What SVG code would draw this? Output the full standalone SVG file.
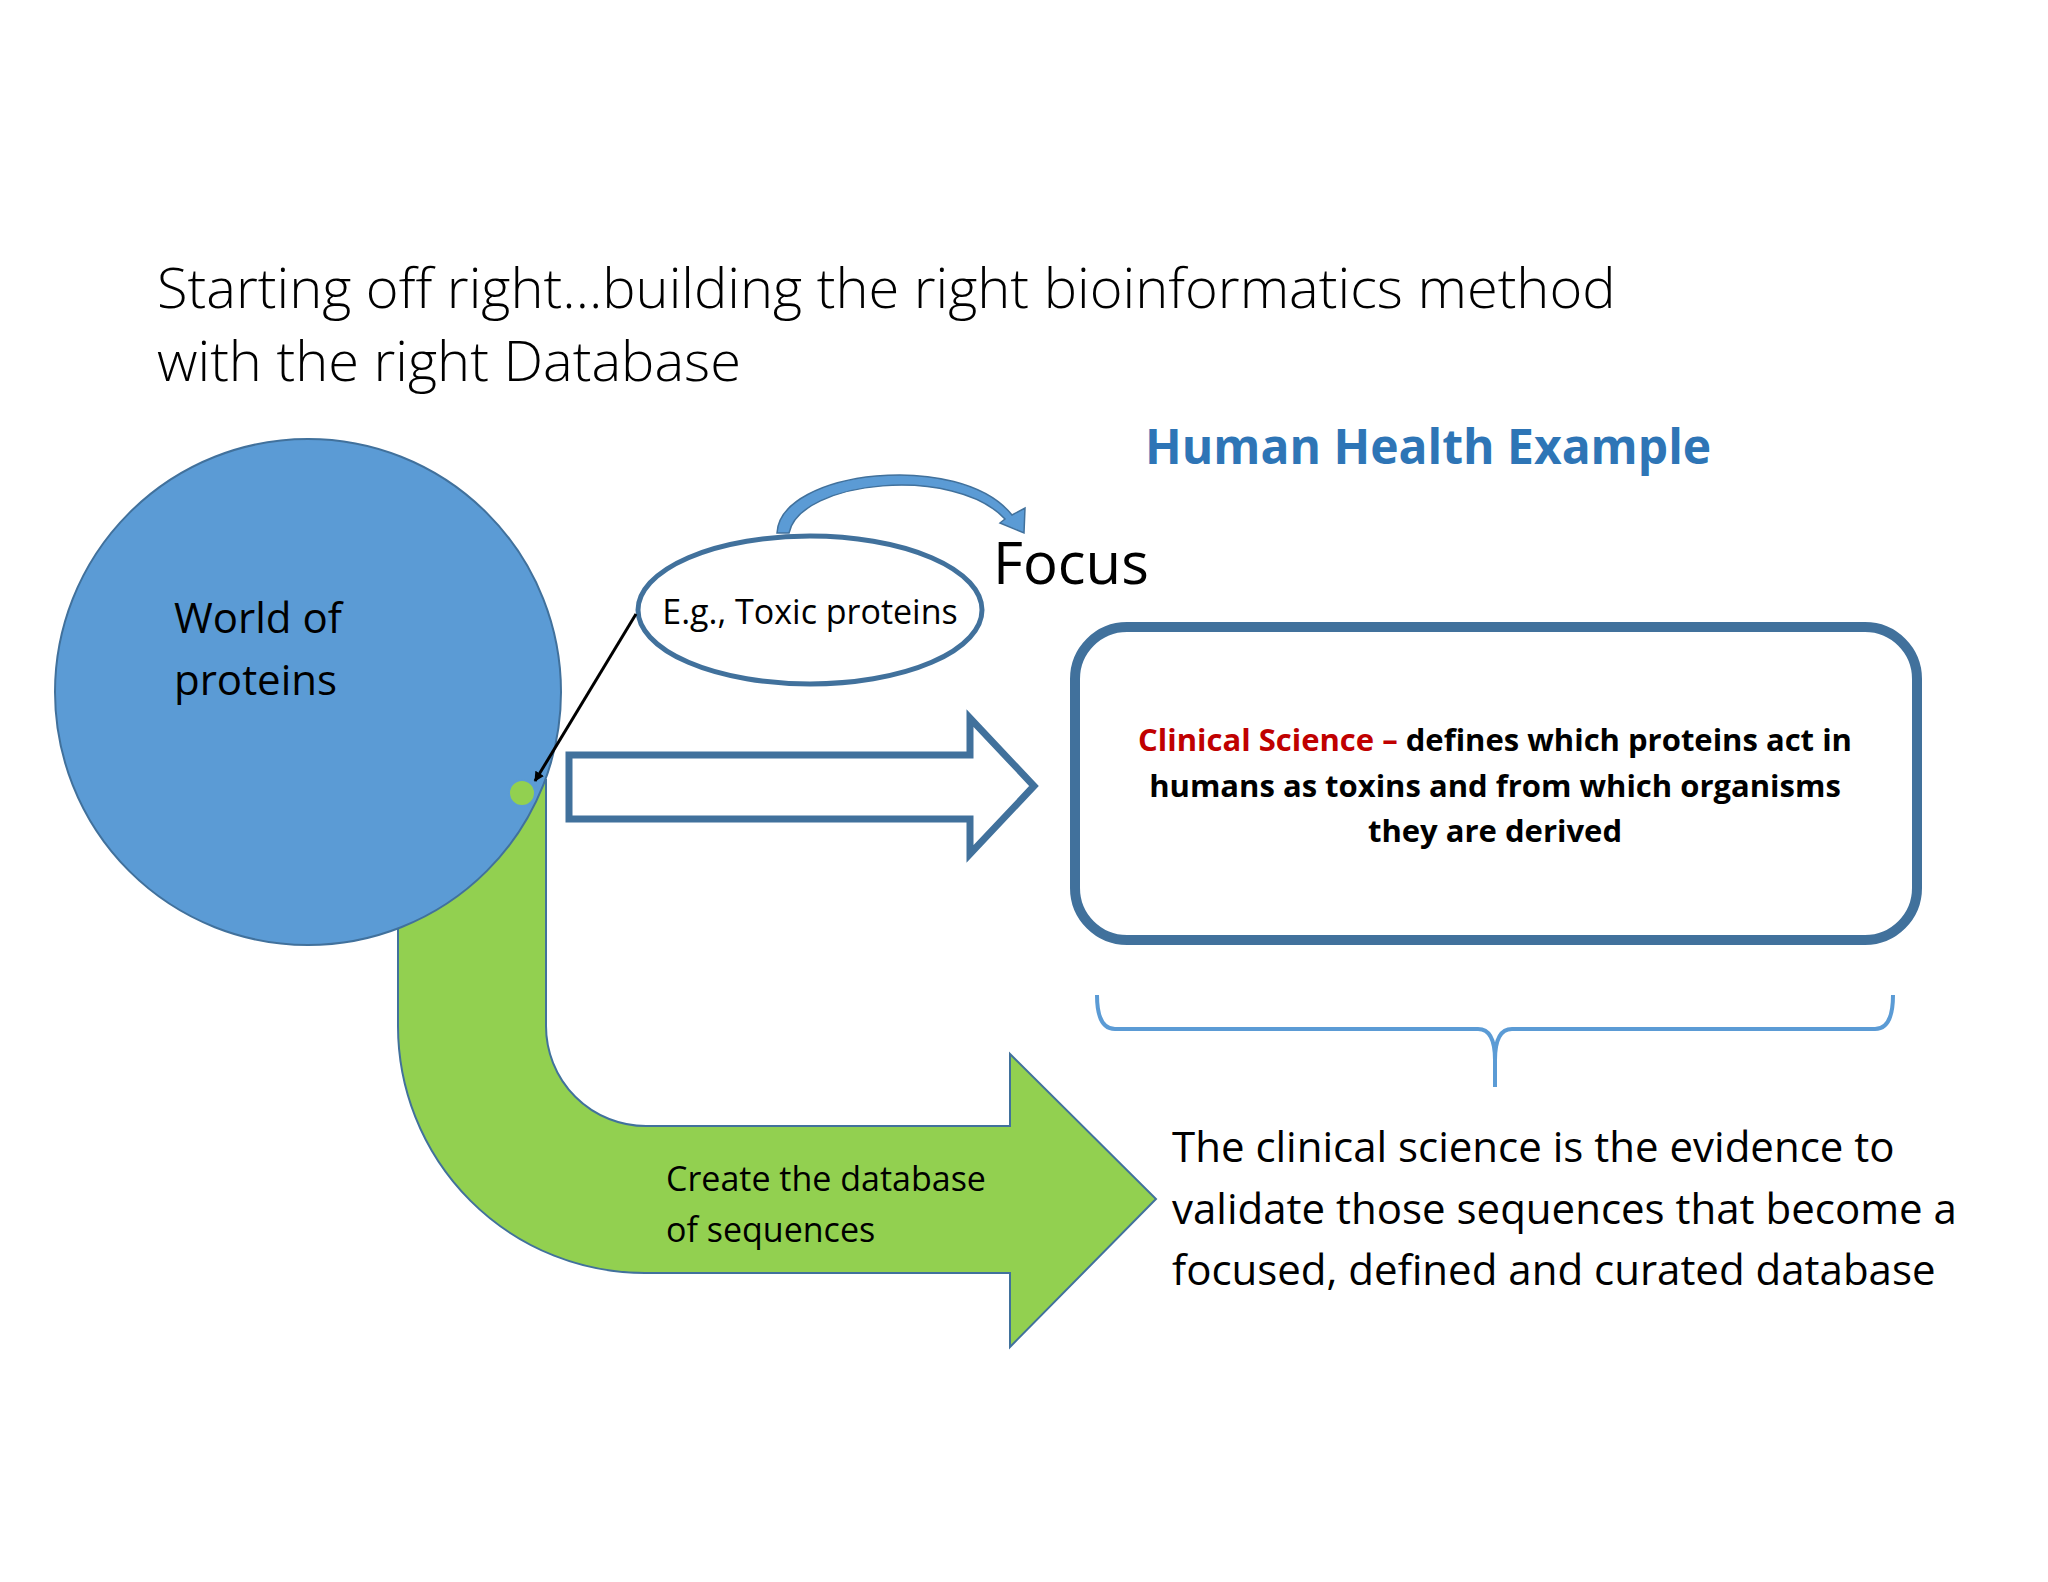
<svg xmlns="http://www.w3.org/2000/svg" width="2048" height="1582" viewBox="0 0 2048 1582">
<style>
text{font-family:"Open Sans","Liberation Sans",sans-serif;fill:#000}
.t{font-size:56px;font-weight:300}
.b{font-weight:bold}
.ln{stroke:#41719C;fill:none}
</style>
<defs>
<marker id="ah" markerWidth="10" markerHeight="10" refX="9" refY="5" orient="auto" markerUnits="userSpaceOnUse"><path d="M0,0 L10,5 L0,10 Z" fill="#000"/></marker>
</defs>
<rect width="2048" height="1582" fill="#fff"/>
<g id="title">
<text class="t" x="157" y="308">Starting off right…building the right bioinformatics method</text>
<text class="t" x="157" y="381">with the right Database</text>
</g>
<text x="1145" y="464" font-size="48" class="b" style="fill:#2E75B6">Human Health Example</text>
<g id="green-arrow">
<path d="M398,780 L546,780 L546,1026 A100,100 0 0 0 646,1126 L1010,1126 L1010,1054 L1156,1199 L1010,1347 L1010,1273 L645,1273 A247,247 0 0 1 398,1026 Z" fill="#92D050" stroke="#41719C" stroke-width="2"/>
<text x="666" y="1191" font-size="34">Create the database</text>
<text x="666" y="1242" font-size="34">of sequences</text>
</g>
<g id="world">
<circle cx="308" cy="692" r="253" fill="#5B9BD5" stroke="#41719C" stroke-width="2"/>
<text x="174" y="633" font-size="42">World of</text>
<text x="174" y="695" font-size="42">proteins</text>
</g>
<circle cx="522" cy="793" r="13" fill="#92D050" stroke="#5B9BD5" stroke-width="2"/>
<g id="toxic">
<ellipse cx="810" cy="610" rx="172" ry="74" fill="#fff" stroke="#41719C" stroke-width="5"/>
<text x="810" y="624" font-size="34" text-anchor="middle">E.g., Toxic proteins</text>
</g>
<g id="connectors">
<path d="M636,614 L535,781" stroke="#000" stroke-width="3" marker-end="url(#ah)"/>
<path d="M777,533 C780,470 960,450 1012,515 L1025,508 L1024,533 L1000,523 L1005,519 C955,465 800,480 789,533 Z" fill="#5B9BD5" stroke="#41719C" stroke-width="1.5"/>
<path d="M569,755 L970,755 L970,718 L1034,786 L970,854 L970,819 L569,819 Z" fill="#fff" stroke="#41719C" stroke-width="7"/>
<path d="M1097,995 Q1097,1029 1115,1029 L1478,1029 Q1495,1029 1495,1060 L1495,1087 M1495,1060 Q1495,1029 1512,1029 L1875,1029 Q1893,1029 1893,995" stroke="#5B9BD5" stroke-width="4" fill="none"/>
</g>
<text x="993" y="584" font-size="58">Focus</text>
<g id="clinical">
<rect x="1075" y="627" width="842" height="313" rx="52" fill="#fff" stroke="#41719C" stroke-width="10"/>
<text x="1495" y="751" font-size="31" text-anchor="middle" class="b"><tspan style="fill:#C00000">Clinical Science – </tspan>defines which proteins act in</text>
<text x="1495" y="797" font-size="31" text-anchor="middle" class="b">humans as toxins and from which organisms</text>
<text x="1495" y="842" font-size="31" text-anchor="middle" class="b">they are derived</text>
</g>
<g id="evidence">
<text x="1172" y="1162" font-size="42">The clinical science is the evidence to</text>
<text x="1172" y="1224" font-size="42">validate those sequences that become a</text>
<text x="1172" y="1285" font-size="42">focused, defined and curated database</text>
</g>
</svg>
